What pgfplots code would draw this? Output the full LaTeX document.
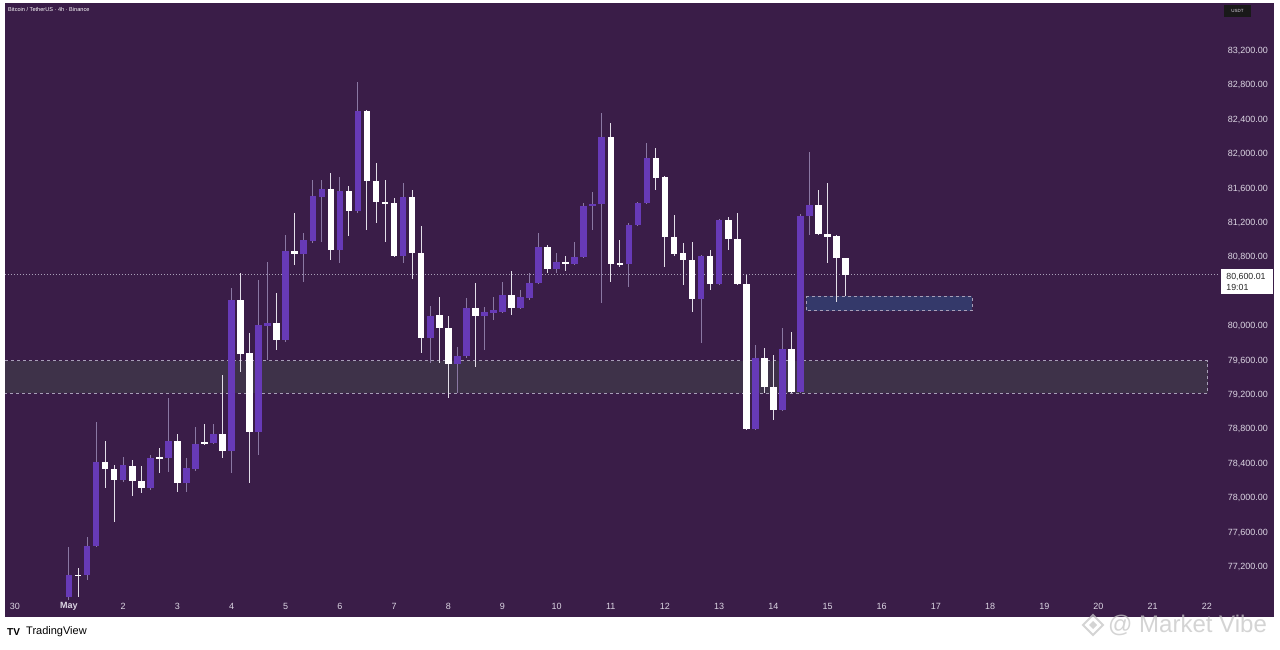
\documentclass[border=0pt]{standalone}
\usepackage{fontspec}
\setmainfont{Liberation Sans}
\usepackage{pgfplots}
\usepackage{pgfplotstable}
\pgfplotsset{compat=1.18}
\definecolor{bg}{HTML}{3A1D48}
\definecolor{upc}{HTML}{673AB7}
\definecolor{upw}{HTML}{8A78A3}
\definecolor{dnc}{HTML}{FFFFFF}
\definecolor{dnw}{HTML}{E2DEE8}
\definecolor{zoneG}{HTML}{3E3249}
\definecolor{zoneB}{HTML}{34396A}
\definecolor{zline}{HTML}{A89FB8}
\definecolor{lbl}{HTML}{DCD6E3}

\pgfplotstableread{
t o h l c
0 76851 77433 76820 77107
2 77107 77549 77049 77444
3 77444 78886 77430 78421
6 78212 78479 78190 78386
9 78119 78502 78100 78467
11 78467 79165 78300 78665
13 78177 78467 78072 78353
14 78340 78828 78320 78630
16 78642 78863 78630 78746
18 78549 80444 78293 80305
21 78770 80537 78502 80014
22 80002 80747 79607 80037
24 79840 81060 79820 80874
26 80840 81084 80514 81002
27 80991 81700 80970 81514
28 81502 81700 80979 81595
30 80886 81735 80735 81572
32 81340 82840 81320 82502
37 80816 81665 80735 81502
40 79863 80235 79572 80119
43 79560 79758 79223 79653
44 79653 80328 79630 80212
46 80119 80223 79723 80165
47 80153 80340 80072 80188
48 80165 80514 80150 80363
50 80212 80421 80200 80340
51 80328 80619 80310 80502
52 80502 81084 80490 80921
54 80665 80851 80619 80747
56 80723 80979 80710 80805
57 80805 81433 80790 81398
58 81398 81560 81119 81421
59 81421 82479 80270 82200
62 80723 81200 80456 81177
63 81177 81450 81160 81433
64 81433 82130 81420 81956
70 80316 80830 79805 80816
72 80491 81250 80480 81235
76 78805 79781 78790 79630
79 79026 79979 79010 79735
81 79235 81300 79220 81281
82 81281 82026 81060 81409
}\upcandles

\pgfplotstableread{
t o h l c
1 77110 77188 76851 77100
4 78421 78665 78119 78340
5 78340 78386 77723 78212
7 78374 78444 78023 78200
8 78200 78374 78060 78119
10 78470 78584 78293 78467
12 78665 78746 78072 78177
15 78650 78863 78620 78642
17 78746 79433 78467 78549
19 80305 80619 79467 79677
20 79688 79921 78177 78770
23 80037 80386 79723 79840
25 80874 81316 80712 80840
29 81595 81781 80770 80886
31 81572 81630 81049 81340
33 82502 82514 81119 81688
34 81688 81898 81200 81444
35 81444 81700 80979 81421
36 81433 81491 80800 80816
38 81502 81584 80549 80851
39 80851 81165 79688 79863
41 80130 80340 79572 79979
42 79979 80119 79165 79560
45 80212 80502 79526 80119
49 80363 80642 80130 80212
53 80921 80940 80619 80665
55 80747 80816 80642 80723
60 82200 82363 80514 80723
61 80730 81002 80688 80723
65 81956 82072 81584 81723
66 81735 81750 80688 81037
67 81037 81293 80820 80840
68 80851 80967 80479 80770
69 80770 80979 80165 80316
71 80816 80886 80421 80491
73 81235 81270 80886 81014
74 81014 81316 80480 80491
75 80491 80595 78790 78805
77 79630 79747 79223 79293
78 79293 79665 78909 79026
80 79735 79933 79220 79235
83 81409 81584 81060 81072
84 81072 81665 80735 81037
85 81049 81060 80281 80793
86 80793 80800 80351 80600
}\dncandles

\begin{document}
\begin{tikzpicture}
\useasboundingbox (0,0) rectangle (1280pt,649pt);
\fill[white] (0,0) rectangle (1280pt,649pt);
\begin{axis}[
  at={(5pt,32pt)}, anchor=south west,
  scale only axis, width=1269pt, height=614pt,
  xmin=-7.087, xmax=133.44, ymin=76619, ymax=83758,
  axis line style={draw=none},
  major tick length=0pt,
  axis background/.style={fill=bg},
  xtick={-6,0,...,126},
  xticklabels={30,\textbf{May},2,3,4,5,6,7,8,9,10,11,12,13,14,15,16,17,18,19,20,21,22},
  xticklabel style={anchor=center, yshift=11pt, text=lbl, font=\fontsize{9}{10}\selectfont, inner sep=0pt},
  ytick={77200,77600,78000,78400,78800,79200,79600,80000,80800,81200,81600,82000,82400,82800,83200},
  yticklabel pos=right,
  yticklabel style={anchor=east, xshift=-6pt, text=lbl, font=\fontsize{9}{10}\selectfont, inner sep=0pt,
    /pgf/number format/.cd, fixed, fixed zerofill, precision=2, 1000 sep={,}, assume math mode=true},
  scaled y ticks=false,
  candle/.style={draw=none, no markers, forget plot,
    /pgfplots/error bars/y dir=both, /pgfplots/error bars/y explicit, /pgfplots/error bars/error mark=none},
]
% zones
\addplot[fill=zoneG, draw=none, forget plot] coordinates {(-7.1,79223) (126.1,79223) (126.1,79600) (-7.1,79600)} -- cycle;
\addplot[zline, line width=0.6pt, dash pattern=on 3pt off 3pt, forget plot] coordinates {(-7.1,79600) (126.1,79600) (126.1,79223) (-7.1,79223)};
\addplot[fill=zoneB, draw=none, forget plot] coordinates {(81.6,80180) (100.0,80180) (100.0,80350) (81.6,80350)} -- cycle;
\addplot[zline, line width=0.6pt, dash pattern=on 3pt off 3pt, forget plot] coordinates {(81.6,80350) (100.0,80350) (100.0,80180) (81.6,80180) (81.6,80350)};
% last price line
\addplot[zline, line width=0.5pt, dash pattern=on 1.5pt off 1.5pt, forget plot] coordinates {(-7.1,80600) (127.2,80600)};
% wicks
\addplot[candle, /pgfplots/error bars/error bar style={draw=upw, solid, line width=1pt}]
  table[x=t, y expr={(\thisrow{h}+\thisrow{l})/2}, y error expr={(\thisrow{h}-\thisrow{l})/2}] {\upcandles};
\addplot[candle, /pgfplots/error bars/error bar style={draw=dnw, solid, line width=1pt}]
  table[x=t, y expr={(\thisrow{h}+\thisrow{l})/2}, y error expr={(\thisrow{h}-\thisrow{l})/2}] {\dncandles};
% bodies
\addplot[candle, /pgfplots/error bars/error bar style={draw=upc, solid, line width=6.6pt}]
  table[x=t, y expr={(\thisrow{o}+\thisrow{c})/2}, y error expr={max(abs(\thisrow{o}-\thisrow{c})/2,6)}] {\upcandles};
\addplot[candle, /pgfplots/error bars/error bar style={draw=dnc, solid, line width=6.6pt}]
  table[x=t, y expr={(\thisrow{o}+\thisrow{c})/2}, y error expr={max(abs(\thisrow{o}-\thisrow{c})/2,6)}] {\dncandles};
% price label
\fill[white] (axis cs:127.55,80374) rectangle (axis cs:133.3,80665);
\node[anchor=west, inner sep=0pt, text=black!85, font=\fontsize{8.8}{9}\selectfont] at (axis cs:128.15,80572) {80,600.01};
\node[anchor=west, inner sep=0pt, text=black!85, font=\fontsize{8.8}{9}\selectfont] at (axis cs:128.15,80450) {19:01};
% USDT box
\fill[black!90] (axis cs:127.9,83595) rectangle (axis cs:130.9,83735);
\node[inner sep=0pt, text=lbl, font=\fontsize{4.5}{5}\selectfont] at (axis cs:129.4,83665) {USDT};
% title
\node[anchor=west, inner sep=0pt, text=white, font=\fontsize{5.6}{6}\selectfont] at (axis cs:-6.75,83677) {Bitcoin / TetherUS · 4h · Binance};
\end{axis}
% footer
\node[anchor=west, inner sep=0pt, font=\fontsize{10}{11}\selectfont\bfseries] at (7pt,17pt) {TV};
\node[anchor=west, inner sep=0pt, font=\fontsize{11}{12}\selectfont] at (26pt,17pt) {TradingView};
% watermark
\begin{scope}[opacity=0.75]
\draw[gray!45, line width=2pt] (1093pt,14pt) -- (1103pt,24pt) -- (1093pt,34pt) -- (1083pt,24pt) -- cycle;
\fill[gray!45] (1093pt,20pt) -- (1097pt,24pt) -- (1093pt,28pt) -- (1089pt,24pt) -- cycle;
\node[anchor=west, inner sep=0pt, text=gray!45, font=\fontsize{24}{26}\selectfont] at (1108pt,24pt) {@ Market Vibe};
\end{scope}
\end{tikzpicture}
\end{document}
